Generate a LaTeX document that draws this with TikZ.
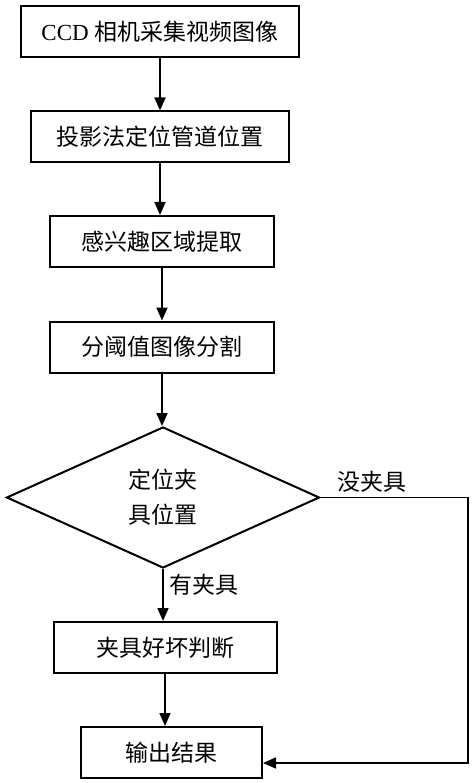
\documentclass[tikz,border=0pt]{standalone}
\usepackage{fontspec}
\setmainfont{Liberation Serif}
\newfontfamily\cjk{Noto Sans CJK SC}
\usetikzlibrary{positioning,arrows.meta,calc,shapes.geometric}

\begin{document}
\begin{tikzpicture}[
  x=1pt, y=1pt,
  font=\fontsize{23pt}{35pt}\selectfont,
  >={Triangle[length=13pt,width=11pt]},
  proc/.style={draw, line width=2pt, minimum height=51pt, inner sep=0pt, align=center},
  dec/.style={draw, diamond, line width=2pt, minimum width=313pt, minimum height=141pt, inner sep=0pt, align=center},
  flow/.style={->, line width=1.7pt},
]
\useasboundingbox (0,0) rectangle (474,-783);

% Process boxes
\node[proc, minimum width=278pt] (cap) at (160,-31.5) {CCD {\cjk 相机采集视频图像}};
\node[proc, minimum width=258pt] (proj) at (160,-137) {\cjk 投影法定位管道位置};
\node[proc, minimum width=224pt] (roi) at (162,-241.5) {\cjk 感兴趣区域提取};
\node[proc, minimum width=224pt] (seg) at (162,-347) {\cjk 分阈值图像分割};

% Decision
\node[dec] (loc) at (163,-497.5) {\cjk 定位夹\\\cjk 具位置};

\node[proc, minimum width=223pt] (judge) at (165,-647.5) {\cjk 夹具好坏判断};
\node[proc, minimum width=181pt] (out) at (171.5,-752.5) {\cjk 输出结果};

% Main flow
\draw[flow] (cap.south) -- (cap.south |- proj.north);
\draw[flow] (proj.south) -- (proj.south |- roi.north);
\draw[flow] (roi.south) -- (roi.south |- seg.north);
\draw[flow] (seg.south) -- (seg.south |- loc.north);
\draw[flow] (loc.south) -- (loc.south |- judge.north)
  node[pos=0.3, right=2pt] {\cjk 有夹具};
\draw[flow] (judge.south) -- (judge.south |- out.north);

% No clamp branch
\coordinate (turn) at (468,-497.5);
\draw[flow] (loc.east) -- node[pos=0.35, above=1pt] {\cjk 没夹具} (turn)
  |- ([yshift=-10.5pt]out.east);

\end{tikzpicture}
\end{document}
